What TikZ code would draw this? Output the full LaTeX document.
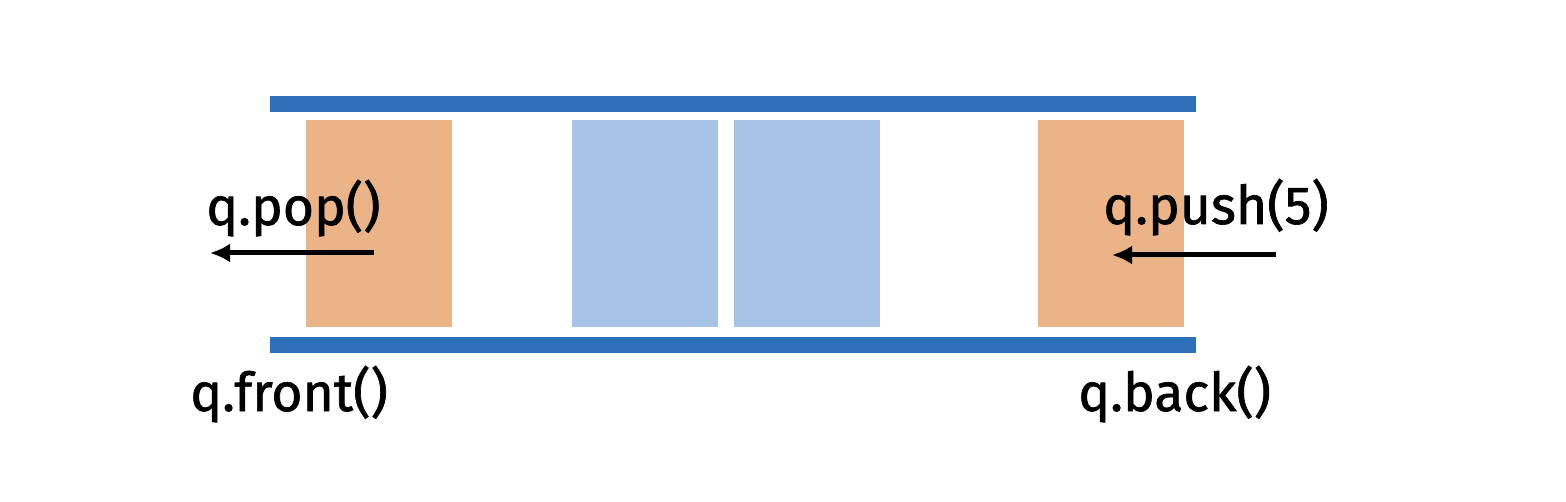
\documentclass[tikz,border=0pt]{standalone}
\usepackage{fontspec}
\setmainfont{Fira Sans}
\newfontfamily\opfont[FakeBold=1.2]{Fira Sans}
\usepackage{tikz}
\usetikzlibrary{arrows.meta}

\definecolor{barblue}{HTML}{2E6FBA}
\definecolor{elemorange}{HTML}{EAB388}
\definecolor{elemblue}{HTML}{A6C3E6}

\begin{document}
\begin{tikzpicture}[x=1pt, y=-1pt,
    bar/.style={fill=barblue, draw=none, inner sep=0pt, minimum width=926pt, minimum height=16pt, anchor=north west},
    elem/.style={draw=none, inner sep=0pt, minimum width=146pt, minimum height=207pt, anchor=north west},
    op/.style={inner sep=0pt, anchor=base west, font=\opfont\fontsize{53.5}{57}\selectfont},
    move/.style={-{Latex[length=20pt, width=19pt]}, line width=5pt}]
    \useasboundingbox (0,0) rectangle (1566,502);
    \node (top) [bar] at (270,96) {};
    \node (bottom) [bar] at (270,337) {};
    \node (e1) [elem, fill=elemorange] at (306,120) {};
    \node (e2) [elem, fill=elemblue] at (572,120) {};
    \node (e3) [elem, fill=elemblue] at (734,120) {};
    \node (e4) [elem, fill=elemorange] at (1038,120) {};
    \node (pop) [op] at (206,225) {q.pop()};
    \node (push) [op] at (1103,224) {q.push(5)};
    \node (front) [op] at (190,411) {q.front()};
    \node (back) [op] at (1078,411) {q.back()};
    \coordinate (popstart) at (374,253);
    \coordinate (popend) at (210,253);
    \coordinate (pushstart) at (1276,255);
    \coordinate (pushend) at (1112,255);
    \draw [move] (popstart) -- (popend);
    \draw [move] (pushstart) -- (pushend);
\end{tikzpicture}
\end{document}
